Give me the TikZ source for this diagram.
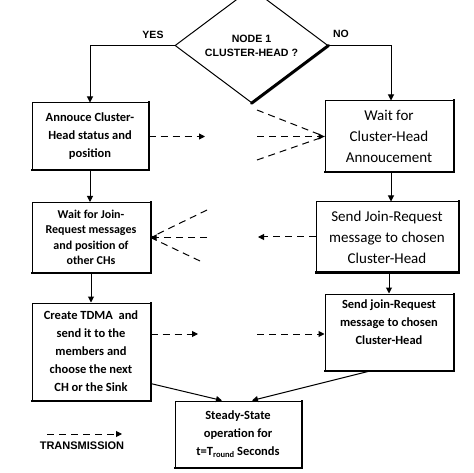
\documentclass[tikz,border=0pt]{standalone}
\usepackage{fontspec}
\setmainfont{Carlito}
\newfontfamily\arialfont{Liberation Sans}
\usetikzlibrary{arrows.meta,shapes.geometric}
\begin{document}
\begin{tikzpicture}[x=1pt,y=-1pt,
  box/.style={draw,line width=1pt,inner sep=0pt,align=center},
  bfont/.style={font=\bfseries\fontsize{12.5}{18}\selectfont},
  rfont/.style={font=\fontsize{15}{21}\selectfont},
  arr/.style={line width=1pt,-{Triangle[length=6pt,width=6pt]}},
  darr/.style={line width=1pt,dash pattern=on 7pt off 5pt,-{Triangle[length=6pt,width=6pt]}},
  dln/.style={line width=1pt,dash pattern=on 7pt off 5pt},
  shadowline/.style={line width=2pt,line cap=rect},
  lbl/.style={font=\arialfont\bfseries\fontsize{10.5}{12}\selectfont,inner sep=0pt}]
\useasboundingbox (0,0) rectangle (474,473);
\fill[white] (0,0) rectangle (474,473);
% decision
\node[draw,diamond,line width=1pt,minimum width=153pt,minimum height=85pt,inner sep=0pt,
  align=center,font=\arialfont\bfseries\fontsize{10.6}{14}\selectfont] (dia) at (251.5,45.5) {NODE 1\\CLUSTER-HEAD ?};
\draw[line width=3pt,line cap=round] (dia.east) -- (dia.south);
\node[lbl] (yes) at (153,35) {YES};
\node[lbl] (no) at (341,34) {NO};
% boxes
\node[box,bfont,minimum width=116pt,minimum height=67pt] (b1) at (90,136.5) {Annouce Cluster-\\Head status and\\position};
\node[box,rfont,minimum width=128pt,minimum height=71pt] (b2) at (389,136.5) {Wait for\\Cluster-Head\\Annoucement};
\node[box,font=\bfseries\fontsize{12}{15.5}\selectfont,minimum width=118pt,minimum height=70pt] (b3) at (91,237.5) {Wait for Join-\\Request messages\\and position of\\other CHs};
\node[box,rfont,minimum width=142pt,minimum height=70pt] (b4) at (387,237) {Send Join-Request\\message to chosen\\Cluster-Head};
\node[box,bfont,minimum width=118pt,minimum height=97pt] (b5) at (91,351.5) {Create TDMA\ \ and\\send it to the\\members and\\choose the next\\CH or the Sink};
\node[box,bfont,minimum width=128pt,minimum height=76pt,text depth=20pt] (b6) at (389,332) {Send join-Request\\message to chosen\\Cluster-Head};
\node[box,bfont,minimum width=126pt,minimum height=66pt] (b7) at (238,434) {Steady-State\\operation for\\t=T\raisebox{-1.5pt}{\fontsize{8.5}{9}\selectfont round} Seconds};
\foreach \n in {b1,b2,b3,b4,b5,b6,b7}
  \draw[shadowline] (\n.north east) -- (\n.south east) -- (\n.south west);
% solid connectors
\draw[arr] (dia.west) -| (b1.north);
\draw[arr] (dia.east) -| ([xshift=2pt]b2.north);
\draw[arr] (b1.south) -- (b1.south |- b3.north);
\draw[arr] ([xshift=2pt]b2.south) -- ([xshift=2pt]b2.south |- b4.north);
\draw[arr] (b3.south) -- (b3.south |- b5.north);
\draw[arr] ([xshift=2pt]b4.south) -- ([xshift=2pt]b4.south |- b6.north);
\draw[arr] ([yshift=17pt]b5.south east) -- ([xshift=-16pt]b7.north);
\draw[arr] ([xshift=-17pt]b6.south) -- ([xshift=14pt]b7.north);
% transmissions row 1
\coordinate (r1a) at (205,136.5);
\coordinate (r1b) at (257,110);
\coordinate (r1c) at (257,136.5);
\coordinate (r1d) at (257,160);
\draw[darr] (b1.east) -- (r1a);
\draw[dln] (r1b) -- (b2.west);
\draw[darr] (r1c) -- (b2.west);
\draw[dln] (r1d) -- (b2.west);
% row 2
\coordinate (r2a) at (258,237);
\coordinate (r2b) at (207,210);
\coordinate (r2c) at (207,237.5);
\coordinate (r2d) at (200,261);
\draw[darr] (b4.west) -- (r2a);
\draw[dln] (r2b) -- (b3.east);
\draw[darr] (r2c) -- (b3.east);
\draw[dln] (r2d) -- (b3.east);
% row 3
\coordinate (r3a) at (198,334);
\coordinate (r3b) at (257,334);
\draw[darr] (b5.east |- r3a) -- (r3a);
\draw[darr] (r3b) -- (b6.west |- r3b);
% legend
\coordinate (la) at (47,434);
\coordinate (lb) at (122,434);
\draw[darr] (la) -- (lb);
\node[lbl,font=\arialfont\bfseries\fontsize{11}{12}\selectfont] (leg) at (82,446) {TRANSMISSION};
\end{tikzpicture}
\end{document}
